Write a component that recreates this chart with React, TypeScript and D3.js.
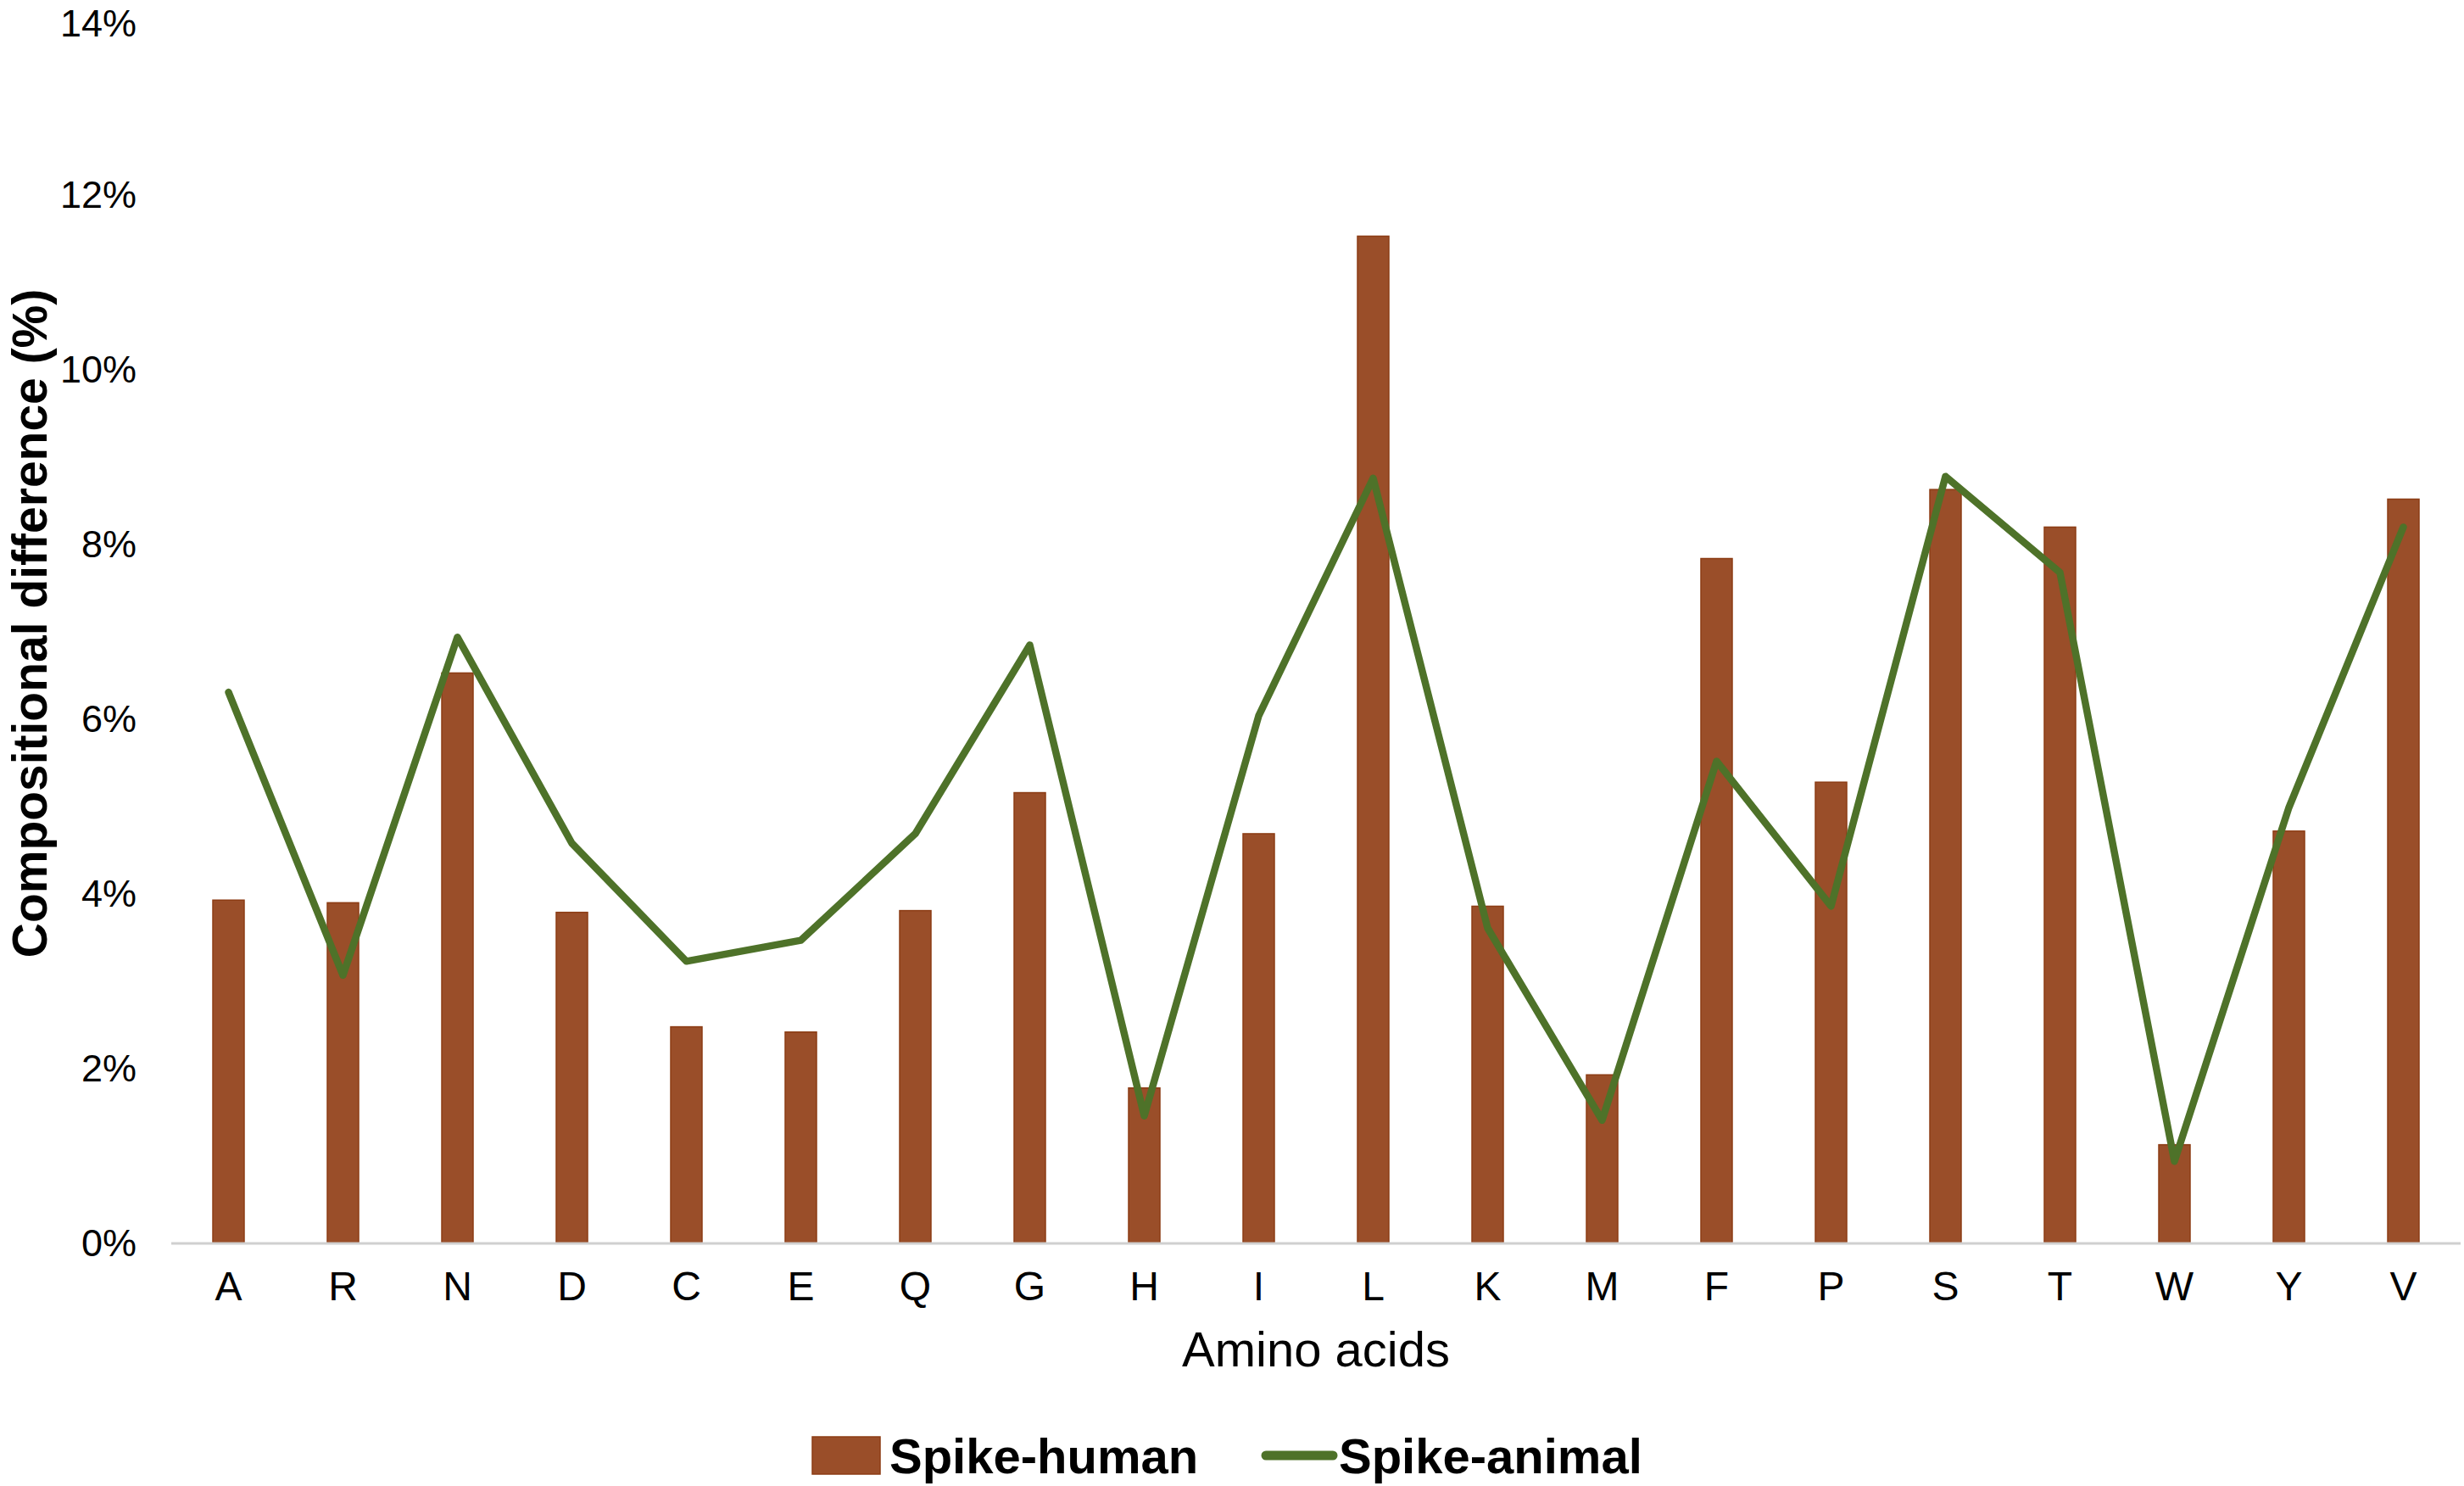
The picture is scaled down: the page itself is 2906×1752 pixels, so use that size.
import React from "react";
import * as d3 from "d3";

const categories = ["A","R","N","D","C","E","Q","G","H","I","L","K","M","F","P","S","T","W","Y","V"];
const spikeHuman = [3.92,3.89,6.52,3.78,2.47,2.41,3.80,5.15,1.77,4.68,11.52,3.85,1.92,7.83,5.27,8.62,8.19,1.12,4.71,8.51];
const spikeAnimal = [6.30,3.06,6.93,4.57,3.22,3.46,4.68,6.84,1.45,6.03,8.75,3.60,1.40,5.51,3.85,8.77,7.67,0.93,4.98,8.19];
const yTicks = [0,2,4,6,8,10,12,14];
const seriesNames = ["Spike-human","Spike-animal"];

const W = 2906;
const H = 1752;
const FONT = "'Liberation Sans', Arial, Helvetica, sans-serif";
const BAR_FILL = "#9A4E29";
const BAR_STROKE = "#8C3C14";
const LINE_COLOR = "#4E7229";

export default function App() {
  const x = d3.scalePoint<string>().domain(categories).range([202, 2902]).padding(0.5);
  const step = x.step();
  const barW = step * 0.274;
  const y = d3.scaleLinear().domain([0, 14]).range([1465, 23]);

  const lineGen = d3
    .line<number>()
    .x((_, i) => x(categories[i]) as number)
    .y((d) => y(d));

  return (
    <svg
      width={W}
      height={H}
      style={{ position: "absolute", left: 0, top: 0, display: "block", background: "#fff" }}
      fontFamily={FONT}
    >
      <rect x={0} y={0} width={W} height={H} fill="#fff" />
      {yTicks.map((t) => (
        <text
          key={t}
          x={161}
          y={Math.max(y(t), 27)}
          dy="0.36em"
          textAnchor="end"
          fontSize={45}
          fill="#000"
        >
          {t}%
        </text>
      ))}
      {spikeHuman.map((v, i) => (
        <rect
          key={categories[i]}
          x={(x(categories[i]) as number) - barW / 2}
          y={y(v)}
          width={barW}
          height={y(0) - y(v)}
          fill={BAR_FILL}
          stroke={BAR_STROKE}
          strokeWidth={1.5}
        />
      ))}
      <line x1={202} x2={2902} y1={y(0) + 1} y2={y(0) + 1} stroke="#d0d0d0" strokeWidth={3} />
      <path
        d={lineGen(spikeAnimal) || ""}
        fill="none"
        stroke={LINE_COLOR}
        strokeWidth={8.5}
        strokeLinejoin="round"
        strokeLinecap="round"
      />
      {categories.map((c) => (
        <text key={c} x={x(c) as number} y={1533} textAnchor="middle" fontSize={48} fill="#000">
          {c}
        </text>
      ))}
      <text x={1552} y={1611} textAnchor="middle" fontSize={58} fill="#000">
        Amino acids
      </text>
      <text
        transform={`translate(55, 735) rotate(-90)`}
        textAnchor="middle"
        fontSize={57}
        fontWeight="bold"
        fill="#000"
      >
        Compositional difference (%)
      </text>
      <rect x={958} y={1694} width={80} height={44} fill={BAR_FILL} stroke={BAR_STROKE} strokeWidth={1.5} />
      <text x={1049} y={1737} fontSize={58} fontWeight="bold" fill="#000">
        {seriesNames[0]}
      </text>
      <line x1={1493} x2={1572} y1={1716} y2={1716} stroke={LINE_COLOR} strokeWidth={11} strokeLinecap="round" />
      <text x={1579} y={1737} fontSize={58} fontWeight="bold" fill="#000">
        {seriesNames[1]}
      </text>
    </svg>
  );
}
